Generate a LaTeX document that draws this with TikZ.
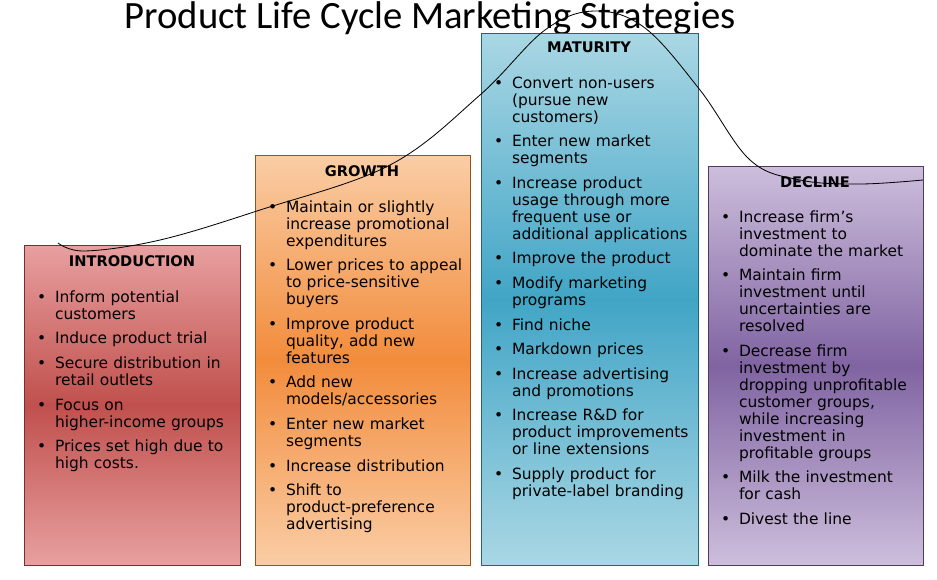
\documentclass[tikz,border=0pt]{standalone}
\usepackage{fontspec}
\setmainfont{DejaVu Sans}
\newfontfamily\titlefont{Carlito}
\hyphenpenalty=10000
\exhyphenpenalty=10000
\newcommand\itm[1]{\par\hangindent=1.15em\hangafter=1\noindent\makebox[1.15em][l]{\textbullet}#1\par\vspace{6.5pt}}
\begin{document}
\begin{tikzpicture}[x=0.03cm,y=-0.03cm,
  col/.style={draw=#1!60!black,line width=0.6pt},
  head/.style={font=\fontsize{12.5}{14}\selectfont\bfseries,anchor=north},
  body/.style={anchor=north west,align=left,inner sep=0pt,font=\fontsize{13.2}{14.5}\selectfont}]
\useasboundingbox (0,0) rectangle (937,579);
\definecolor{redT}{RGB}{232,160,160}\definecolor{redM}{RGB}{192,80,77}
\definecolor{orT}{RGB}{250,205,165}\definecolor{orM}{RGB}{242,140,60}
\definecolor{blT}{RGB}{170,215,228}\definecolor{blM}{RGB}{65,165,198}
\definecolor{puT}{RGB}{205,190,220}\definecolor{puM}{RGB}{128,100,162}
\node[font=\titlefont\fontsize{33}{36}\selectfont] (title) at (430,18) {Product Life Cycle Marketing Strategies};
\path[top color=redT,bottom color=redT,middle color=redM,col=redM] (24,245) rectangle (240,565);
\path[top color=orT,bottom color=orT,middle color=orM,col=orM] (255,155) rectangle (470,565);
\path[top color=blT,bottom color=blT,middle color=blM,col=blM] (481,33) rectangle (698,565);
\path[top color=puT,bottom color=puT,middle color=puM,col=puM] (708,166) rectangle (923,565);
\node[head] (h1) at (132,251) {INTRODUCTION};
\node[head] (h2) at (362,161) {GROWTH};
\node[head] (h3) at (589,38) {MATURITY};
\node[head] (h4) at (815,172) {DECLINE};
\node[body,text width=5.9cm] (b1) at (37,285) {\itm{Inform potential customers}\itm{Induce product trial}\itm{Secure distribution in retail outlets}\itm{Focus on higher-income groups}\itm{Prices set high due to high costs.}};
\node[body,text width=5.85cm] (b2) at (268,195) {\itm{Maintain\ or slightly increase promotional expenditures}\itm{Lower prices to appeal to price-sensitive buyers}\itm{Improve product quality, add new features}\itm{Add new models/accessories}\itm{Enter new market segments}\itm{Increase distribution}\itm{Shift to product-preference advertising}};
\node[body,text width=5.9cm] (b3) at (494,71) {\itm{Convert non-users (pursue new customers)}\itm{Enter new market segments}\itm{Increase product usage through more frequent use or additional applications}\itm{Improve the product}\itm{Modify marketing programs}\itm{Find niche}\itm{Markdown prices}\itm{Increase advertising and promotions}\itm{Increase R\&D for product improvements or line extensions}\itm{Supply product for private-label branding}};
\node[body,text width=5.9cm] (b4) at (721,205) {\itm{Increase firm's investment to dominate the market}\itm{Maintain firm investment until uncertainties are resolved}\itm{Decrease firm investment by dropping unprofitable customer groups, while increasing investment in profitable groups}\itm{Milk the investment for cash}\itm{Divest the line}};
\draw[line width=0.7pt] plot[smooth,tension=0.6] coordinates{(58,243) (85,251) (160,240) (260,210) (390,165) (480,95) (545,30) (595,11) (645,28) (700,90) (750,160) (800,180) (860,184) (923,180)};
\end{tikzpicture}
\end{document}
